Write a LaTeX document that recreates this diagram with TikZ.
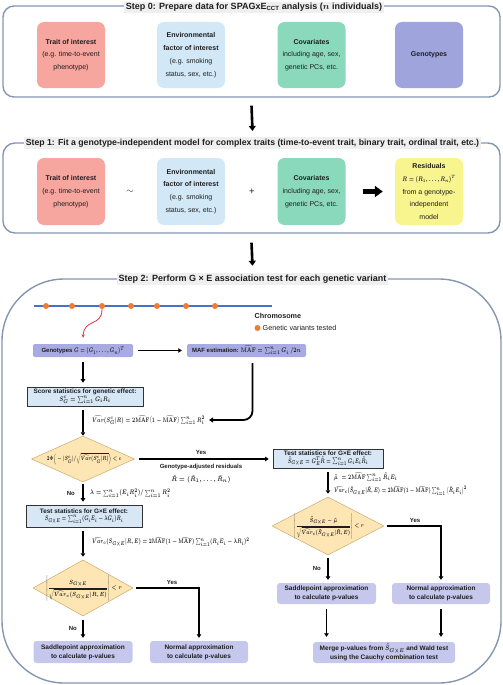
\documentclass[tikz,border=0pt]{standalone}
\usepackage{amsmath}
\usepackage{graphicx}
\usepackage{fontspec}
\setmainfont{Liberation Sans}
\usetikzlibrary{shapes.geometric,arrows.meta,calc}
\definecolor{framec}{HTML}{8497B0}
\definecolor{titlebg}{HTML}{EFEFEF}
\definecolor{traitc}{HTML}{F6A59F}
\definecolor{envc}{HTML}{D2E8F6}
\definecolor{covc}{HTML}{8AD9BC}
\definecolor{genoc}{HTML}{9FA4DC}
\definecolor{resc}{HTML}{F9F58E}
\definecolor{gbox}{HTML}{A8AAE2}
\definecolor{sbox}{HTML}{D7E7F5}
\definecolor{pbox}{HTML}{C6C7ED}
\definecolor{diafill}{HTML}{FDE6B3}
\definecolor{diadraw}{HTML}{C9A96E}
\definecolor{chromc}{HTML}{4472C4}
\definecolor{dotc}{HTML}{ED7D31}
\definecolor{redc}{HTML}{E8303A}
\definecolor{txt}{HTML}{1E1E1E}
\newcommand{\fm}[2][0.7]{\scalebox{#1}[1.1]{#2}}
\begin{document}
\begin{tikzpicture}[x=1pt,y=-1pt,
  every node/.style={text=txt},
  frame/.style={draw=framec, line width=1.4pt, inner sep=0},
  title/.style={fill=titlebg, font=\bfseries\boldmath\fontsize{9}{10}\selectfont, inner sep=1.8pt},
  box/.style={rounded corners=7pt, minimum width=68pt, minimum height=66pt, align=center, inner sep=0, font=\fontsize{7}{12.8}\selectfont},
  gbx/.style={fill=gbox, rounded corners=2pt, inner sep=0, font=\bfseries\boldmath\fontsize{6}{7}\selectfont},
  sbx/.style={fill=sbox, draw=black!80, line width=0.6pt, inner sep=0, align=center, font=\bfseries\boldmath\fontsize{6.4}{7.6}\selectfont},
  pbx/.style={fill=pbox, rounded corners=3pt, inner sep=0, align=center, minimum width=99pt, minimum height=22pt, font=\bfseries\fontsize{6.5}{9}\selectfont},
  dia/.style={diamond, draw=diadraw, fill=diafill, line width=0.5pt, inner sep=0},
  mth/.style={font=\boldmath\fontsize{6}{7}\selectfont, inner sep=0},
  lab/.style={font=\bfseries\fontsize{6}{7}\selectfont, inner sep=0},
  arr/.style={line width=1.5pt, -{Triangle[length=3.5pt,width=4.5pt]}},
  bigarr/.style={line width=2.6pt, -{Triangle[length=5pt,width=7pt]}},
  dot/.style={circle, fill=dotc, inner sep=0, minimum size=6pt}
]
\useasboundingbox (0,0) rectangle (503,685);

% ---------- Step 0 ----------
\node[frame, rounded corners=11pt, minimum width=497pt, minimum height=91pt] (f0) at (251.5,51.5) {};
\node[title] (t0) at (254,7.5) {Step 0: Prepare data for SPAGxE\textsubscript{CCT} analysis ($n$ individuals)};
\node[box, fill=traitc] (tr0) at (71,55) {\textbf{Trait of interest}\\(e.g. time-to-event\\phenotype)};
\node[box, fill=envc] (en0) at (191,55) {\textbf{Environmental}\\\textbf{factor of interest}\\(e.g. smoking\\status, sex, etc.)};
\node[box, fill=covc] (cv0) at (311.5,55) {\textbf{Covariates}\\including age, sex,\\genetic PCs, etc.};
\node[box, fill=genoc] (ge0) at (429,55) {\textbf{Genotypes}};

% ---------- Step 1 ----------
\node[frame, rounded corners=12pt, minimum width=497pt, minimum height=90pt] (f1) at (251.5,188) {};
\node[title, font=\bfseries\fontsize{8.7}{10}\selectfont] (t1) at (252.5,143) {Step 1: Fit a genotype-independent model for complex traits (time-to-event trait, binary trait, ordinal trait, etc.)};
\draw[bigarr] ([yshift=-8pt]f0.south) -- ([yshift=6pt]t1.north);
\node[box, fill=traitc, minimum height=67pt] (tr1) at (71,191.5) {\textbf{Trait of interest}\\(e.g. time-to-event\\phenotype)};
\node[font=\fontsize{9}{9}\selectfont, inner sep=0] (tl1) at (130,192) {$\sim$};
\node[box, fill=envc, minimum height=67pt] (en1) at (191,191.5) {\textbf{Environmental}\\\textbf{factor of interest}\\(e.g. smoking\\status, sex, etc.)};
\node[font=\fontsize{9.5}{9.5}\selectfont, inner sep=0] (pl1) at (252,192) {+};
\node[box, fill=covc, minimum height=67pt] (cv1) at (311.5,191.5) {\textbf{Covariates}\\including age, sex,\\genetic PCs, etc.};
\node[box, fill=resc, minimum height=67pt, font=\fontsize{7}{12.6}\selectfont] (rs1) at (429,191.5) {\textbf{Residuals}\\\scalebox{0.7}[0.95]{\boldmath$R=(R_1,\ldots,R_n)^T$}\\from a genotype-\\independent\\model};
\draw[line width=5pt, -{Triangle[length=8pt,width=11pt]}] ([xshift=17pt]cv1.east) -- ([xshift=-12pt]rs1.west);

% ---------- Step 2 ----------
\node[frame, rounded corners=62pt, minimum width=499pt, minimum height=404pt] (f2) at (251.5,481) {};
\node[title] (t2) at (252.5,279) {Step 2: Perform G × E association test for each genetic variant};
\draw[bigarr] ([yshift=-9pt]f1.south) -- ([yshift=7pt]t2.north);

% chromosome
\coordinate (c0) at (34,306);
\coordinate (c1) at (272,306);
\draw[chromc, line width=1.3pt] (c0) -- (c1);
\foreach \i/\x in {1/46,2/72,3/102,4/131,5/157,6/186,7/215}{
  \node[dot] (d\i) at (\x,306) {};
}
\node[font=\bfseries\fontsize{7.2}{8}\selectfont, anchor=west, inner sep=0] (chr) at (254.5,316) {Chromosome};
\node[dot] (ld) at (257.5,328) {};
\node[font=\fontsize{7.2}{8}\selectfont, anchor=west, inner sep=0] (lt) at (262.5,328) {Genetic variants tested};

% genotypes / MAF
\node[gbx, minimum width=100pt, minimum height=13pt] (gen) at (83,350.5) {Genotypes \fm{$G=(G_1,\ldots,G_n)^T$}};
\node[gbx, minimum width=119pt, minimum height=13pt] (maf) at (246.5,350.5) {MAF estimation: \fm[0.78]{$\widehat{\mathbf{MAF}}=\sum_{i=1}^{n}G_i\,/2n$}};
\draw[redc, line width=0.8pt, -{Stealth[length=3.5pt,width=3pt]}] (d3.south) .. controls (102,327) and (84,318) .. ([yshift=6pt]gen.north);
\draw[arr] ([xshift=5pt]gen.east) -- ([xshift=-5pt]maf.west);

% score
\node[sbx, minimum width=116pt, minimum height=19pt] (sc) at (85,396.5) {Score statistics for genetic effect:\\\fm[0.8]{$S_G^c=\sum_{i=1}^{n}G_iR_i$}};
\draw[arr, shorten <=5pt, shorten >=4pt] (gen.south) -- (gen.south |- sc.north);
\node[mth, anchor=west] (v1) at (92,420) {\fm[0.75]{$\widehat{Var}(S_G^c|R)=2\widehat{\mathbf{MAF}}\big(1-\widehat{\mathbf{MAF}}\big)\sum_{i=1}^{n}R_i^2$}};
\draw[line width=1.8pt, -{Triangle[length=4pt,width=5pt]}, rounded corners=9pt] ([xshift=6pt,yshift=-6pt]maf.south) |- ([xshift=4pt]v1.east);

% diamond 1
\node[dia, minimum width=103pt, minimum height=46pt] (dm1) at (83,459) {};
\node[mth] (dm1t) at (84,459) {\scalebox{0.66}[1.0]{$2\Phi\Big(-|S_G^c|/\sqrt{\widehat{Var}(S_G^c|R)}\Big)<\epsilon$}};
\draw[arr, shorten <=4pt] (gen.south |- sc.south) -- (dm1.north);

% right test statistics
\node[sbx, minimum width=110pt, minimum height=19pt] (tsr) at (328,458.5) {Test statistics for G×E effect:\\\fm{$\tilde S_{G\times E}=G_E^T\tilde R=\sum_{i=1}^{n}G_iE_i\tilde R_i$}};
\draw[arr, shorten <=4pt, shorten >=4pt] (dm1.east) -- (dm1.east -| tsr.west);
\node[lab] (yes1) at (201,452) {Yes};
\node[lab] (gar) at (201,466.5) {Genotype-adjusted residuals};
\node[mth] (rt) at (201,479.5) {\fm[0.9]{$\tilde R=(\tilde R_1,\ldots,\tilde R_n)$}};

% left branch
\node[sbx, minimum width=116pt, minimum height=22pt] (tsl) at (84,516) {Test statistics for G×E effect:\\\fm[0.68]{$S_{G\times E}=\sum_{i=1}^{n}(G_iE_i-\lambda G_i)R_i$}};
\draw[arr, shorten <=2pt, shorten >=3pt] (dm1.south) -- (dm1.south |- tsl.north);
\node[lab, anchor=east] (no1) at (75,493) {No};
\node[mth, anchor=west] (lam) at (90,493) {\fm[0.8]{$\lambda=\sum_{i=1}^{n}(E_iR_i^2)/\sum_{i=1}^{n}R_i^2$}};
\node[mth, anchor=west] (v2) at (92,542) {\fm[0.72]{$\widehat{Var}_c(S_{G\times E}|R,E)=2\widehat{\mathbf{MAF}}(1-\widehat{\mathbf{MAF}})\sum_{i=1}^{n}(R_iE_i-\lambda R_i)^2$}};

\node[dia, minimum width=100pt, minimum height=56pt] (dm2) at (83,588) {};
\node[mth] (dm2t) at (84,588) {\scalebox{0.78}[1.0]{$\left|\dfrac{S_{G\times E}}{\sqrt{\widehat{Var}_c(S_{G\times E}|R,E)}}\right|<r$}};
\draw[arr, shorten <=4pt, shorten >=3pt] (dm1.south |- tsl.south) -- (dm2.north);

\node[pbx] (sp1) at (83,652) {Saddlepoint approximation\\to calculate p-values};
\node[pbx, minimum width=98pt] (n1) at (199,652) {Normal approximation\\to calculate p-values};
\draw[arr, shorten <=4pt, shorten >=3pt] (dm2.south) -- (sp1.north);
\node[lab, anchor=east] (no2) at (77,628) {No};
\draw[arr, shorten <=3pt, shorten >=3pt] (dm2.east) -| (n1.north);
\node[lab] (yes2) at (172,582) {Yes};

% right branch
\node[mth, anchor=west] (mu) at (334,477) {\fm[0.75]{$\tilde\mu\;=2\widehat{\mathbf{MAF}}\sum_{i=1}^{n}\tilde R_iE_i$}};
\node[mth, anchor=west] (v3) at (334,491) {\fm[0.68]{$\widehat{Var}_c(\tilde S_{G\times E}|\tilde R,E)=2\widehat{\mathbf{MAF}}(1-\widehat{\mathbf{MAF}})\sum_{i=1}^{n}\big(\tilde R_iE_i\big)^2$}};
\node[dia, minimum width=112pt, minimum height=58pt] (dm3) at (328,526) {};
\node[mth] (dm3t) at (329,526) {\scalebox{0.72}[1.0]{$\left|\dfrac{\tilde S_{G\times E}-\tilde\mu}{\sqrt{\widehat{Var}_c(\tilde S_{G\times E}|\tilde R,E)}}\right|<r$}};
\draw[arr, shorten <=4pt, shorten >=3pt] (tsr.south) -- (dm3.north);

\node[pbx, minimum height=21pt] (sp2) at (326.5,593.5) {Saddlepoint approximation\\to calculate p-values};
\node[pbx, minimum width=98pt, minimum height=21pt] (n2) at (441,593.5) {Normal approximation\\to calculate p-values};
\draw[arr, shorten <=3pt, shorten >=3pt] (dm3.south) -- (dm3.south |- sp2.north);
\node[lab, anchor=east] (no3) at (321,568) {No};
\draw[arr, shorten <=3pt, shorten >=3pt] (dm3.east) -| (n2.north);
\node[lab] (yes3) at (415,520) {Yes};

\node[pbx, minimum width=142pt, minimum height=21pt] (mg) at (384,652.5) {Merge p-values from \fm[0.85]{\boldmath$\tilde S_{G\times E}$} and Wald test\\using the Cauchy combination test};
\draw[arr, shorten <=5pt, shorten >=5pt] (sp2.south) -- (sp2.south |- mg.north);
\draw[arr, shorten <=5pt, shorten >=5pt] (n2.south) -- (n2.south |- mg.north);
\end{tikzpicture}
\end{document}
